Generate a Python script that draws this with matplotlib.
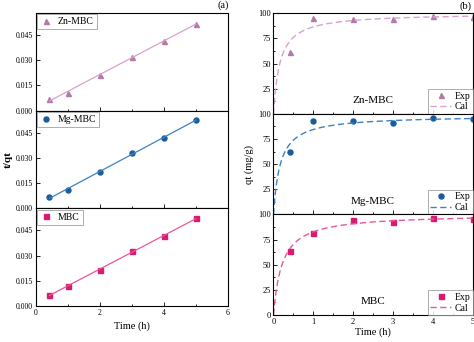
#!/usr/bin/env python3
"""
plot.py

Adsorption kinetics of Zn-MBC, Mg-MBC and MBC:
(a) linearised pseudo-second-order fit (t/qt vs t)
(b) measured qt with the fitted model curve.
"""

import numpy as np
import matplotlib.pyplot as plt
from matplotlib.ticker import MultipleLocator

plt.rcParams["font.family"] = ["Liberation Serif", "DejaVu Serif"]

# contact time (h)
time_h = np.array([0.42, 1, 2, 3, 4, 5])

# adsorbed amount qt (mg/g)
qt_zn = np.array([61.4, 95.6, 94.3, 94.0, 97.3, 96.6])
qt_mg = np.array([61.9, 92.6, 92.6, 90.7, 95.6, 95.3])
qt_mbc = np.array([63.4, 81.9, 94.0, 92.4, 96.3, 95.7])

names = ["Zn-MBC", "Mg-MBC", "MBC"]
markers = ["^", "o", "s"]
marker_colors = ["#b27aaa", "#1a5c9a", "#d81b70"]
line_colors = ["#d6a2cf", "#3b82c2", "#e8579a"]


def pso_fit(t, qt):
    # t/qt = 1/(k*qe^2) + t/qe
    slope, intercept = np.polyfit(t, t / qt, 1)
    qe = 1.0 / slope
    k = 1.0 / (intercept * qe ** 2)
    return slope, intercept, qe, k


def style_axis(ax, fontsize):
    ax.tick_params(which="both", direction="in", labelsize=fontsize,
                   width=0.6, pad=2)
    ax.tick_params(which="major", length=3)
    ax.tick_params(which="minor", length=1.5)
    for s in ax.spines.values():
        s.set_linewidth(0.8)


def main():
    fig = plt.figure(figsize=(4.74, 3.42), dpi=100)

    data = [qt_zn, qt_mg, qt_mbc]

    # left column: t/qt
    lx0, lw = 0.076, 0.405
    ltop, lbot = 0.962, 0.105
    lh = (ltop - lbot) / 3
    # right column: qt
    rx0, rw = 0.577, 0.420
    rtop, rbot = 0.961, 0.079
    rh = (rtop - rbot) / 3

    t_fine = np.linspace(0, 5, 300)

    for i, (qt, name) in enumerate(zip(data, names)):
        slope, intercept, qe, k = pso_fit(time_h, qt)

        # (a) linear form
        ax = fig.add_axes([lx0, ltop - (i + 1) * lh, lw, lh])
        ax.plot(time_h, time_h / qt, linestyle="none", marker=markers[i],
                ms=3.6, color=marker_colors[i], label=name)
        t_line = np.array([time_h[0], time_h[-1]])
        ax.plot(t_line, intercept + slope * t_line, color=line_colors[i], lw=0.9)
        ax.set_xlim(0, 6)
        ax.set_ylim(0, 0.058)
        ax.xaxis.set_major_locator(MultipleLocator(2))
        ax.xaxis.set_minor_locator(MultipleLocator(1))
        ax.set_yticks([0, 0.015, 0.030, 0.045])
        ax.set_yticklabels(["0.000", "0.015", "0.030", "0.045"])
        style_axis(ax, 5.6)
        leg = ax.legend(loc="upper left", fontsize=7, frameon=True,
                        fancybox=False, edgecolor="#888888", handletextpad=0.6,
                        borderaxespad=0.15, borderpad=0.3, handlelength=1.2)
        leg.get_frame().set_linewidth(0.6)
        if i == 1:
            ax.set_ylabel("t/qt", fontsize=8, fontweight="bold", labelpad=2)
        if i < 2:
            ax.tick_params(labelbottom=False)
        else:
            ax.set_xlabel("Time (h)", fontsize=7.5, labelpad=3)

        # (b) kinetic curves
        ax2 = fig.add_axes([rx0, rtop - (i + 1) * rh, rw, rh])
        ax2.plot(time_h, qt, linestyle="none", marker=markers[i], ms=3.6,
                 color=marker_colors[i], label="Exp")
        q_model = k * qe ** 2 * t_fine / (1 + k * qe * t_fine)
        ax2.plot(t_fine, q_model, linestyle=(0, (4.5, 2.5)), lw=1.0,
                 color=line_colors[i], label="Cal")
        ax2.set_xlim(0, 5)
        ax2.set_ylim(0, 100)
        ax2.xaxis.set_major_locator(MultipleLocator(1))
        ax2.xaxis.set_minor_locator(MultipleLocator(0.5))
        ax2.yaxis.set_major_locator(MultipleLocator(25))
        ax2.yaxis.set_minor_locator(MultipleLocator(12.5))
        style_axis(ax2, 6)
        if i < 2:
            ax2.set_yticks([25, 50, 75, 100])
            ax2.tick_params(labelbottom=False)
        else:
            ax2.set_xlabel("Time (h)", fontsize=7.5, labelpad=1)
        if i == 1:
            ax2.set_ylabel("qt (mg/g)", fontsize=7.5, labelpad=3)
        ax2.text(0.5, 0.13, name, transform=ax2.transAxes, ha="center",
                 va="center", fontsize=8)
        leg2 = ax2.legend(loc="lower right", fontsize=7, frameon=True,
                          fancybox=False, edgecolor="#888888",
                          borderaxespad=0.0, borderpad=0.25, labelspacing=0.2,
                          handlelength=2.2, handletextpad=0.3)
        leg2.get_frame().set_linewidth(0.6)

    fig.text(0.47, 0.985, "(a)", fontsize=7.5, ha="center", va="center")
    fig.text(0.983, 0.982, "(b)", fontsize=7.5, ha="center", va="center")

    fig.savefig("out.png", dpi=100)


if __name__ == "__main__":
    main()
